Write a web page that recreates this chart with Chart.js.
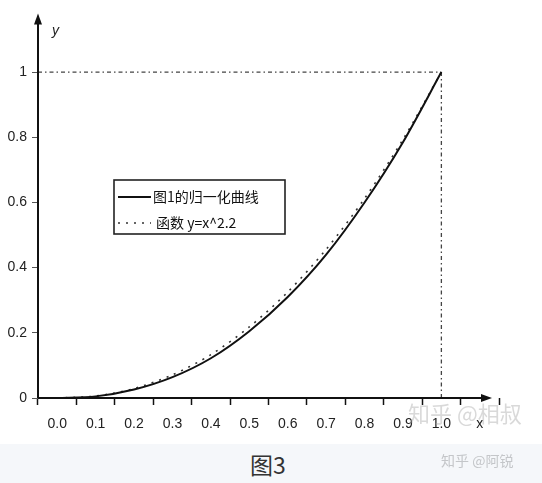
<!DOCTYPE html>
<html>
<head>
<meta charset="utf-8">
<script src="https://cdn.jsdelivr.net/npm/chart.js@4/dist/chart.umd.min.js"></script>
<style>
  html, body { margin: 0; padding: 0; background: #fff; }
  #wrap { position: relative; width: 542px; height: 483px; overflow: hidden; }
  #c { position: absolute; left: 0; top: 0; }
  #band { position: absolute; left: 0; top: 444px; width: 542px; height: 39px; background: #f5f7fa; }
  #caption { position: absolute; left: 0; top: 447px; width: 536px; text-align: center;
    font: 23px "Noto Sans CJK SC", sans-serif; color: #333; }
  .wm { position: absolute; font-family: "Noto Sans CJK SC", sans-serif; white-space: nowrap; }
  #wm1 { left: 408px; top: 396px; font-size: 22px; color: rgba(170,170,170,0.45); }
  #wm2 { left: 441px; top: 450px; font-size: 14px; color: #c4c6c9; }
</style>
</head>
<body>
<div id="wrap">
  <canvas id="c" width="542" height="444"></canvas>
  <div id="band"></div>
  <div id="caption">图3</div>
  <div class="wm" id="wm1">知乎 @相叔</div>
  <div class="wm" id="wm2">知乎 @阿锐</div>
</div>
<script>
// values
const xLabels = ['0.0', '0.1', '0.2', '0.3', '0.4', '0.5', '0.6', '0.7', '0.8', '0.9', '1.0', 'x'];
const curveValues = [0, 0.005, 0.026, 0.064, 0.122, 0.205, 0.31, 0.44, 0.6, 0.785, 1.0, null];
const powerValues = [0, 0.006, 0.029, 0.071, 0.133, 0.218, 0.325, 0.456, 0.612, 0.793, 1.0, null];
const yTicks = [0, 0.2, 0.4, 0.6, 0.8, 1];
const yTickLabels = ['0', '0.2', '0.4', '0.6', '0.8', '1'];

const tickFont = { family: "'Liberation Sans', Arial, sans-serif", size: 14 };

// axes with arrows, dotted guide lines at x=1.0 / y=1, y title, legend box
const decor = {
  id: 'decor',
  beforeDatasetsDraw(chart) {
    const ctx = chart.ctx, a = chart.chartArea;
    const xs = chart.scales.x, ys = chart.scales.y;
    const x1 = xs.getPixelForValue(10), y1 = ys.getPixelForValue(1), y0 = ys.getPixelForValue(0);
    ctx.save();
    ctx.strokeStyle = '#444';
    ctx.lineWidth = 1.3;
    ctx.setLineDash([4, 3, 1.5, 3]);
    ctx.beginPath();
    ctx.moveTo(a.left, y1); ctx.lineTo(x1, y1);
    ctx.moveTo(x1, y1); ctx.lineTo(x1, y0);
    ctx.stroke();
    ctx.restore();
  },
  afterDraw(chart) {
    const ctx = chart.ctx, a = chart.chartArea;
    const y0 = chart.scales.y.getPixelForValue(0);
    ctx.save();
    ctx.strokeStyle = '#111';
    ctx.fillStyle = '#111';
    ctx.lineWidth = 2;
    // y axis
    ctx.beginPath();
    ctx.moveTo(a.left, y0); ctx.lineTo(a.left, a.top + 6);
    ctx.stroke();
    ctx.beginPath();
    ctx.moveTo(a.left, a.top); ctx.lineTo(a.left - 4, a.top + 11); ctx.lineTo(a.left + 4, a.top + 11);
    ctx.closePath(); ctx.fill();
    // x axis
    const xe = a.right - 7;
    ctx.beginPath();
    ctx.moveTo(a.left, y0); ctx.lineTo(xe - 6, y0);
    ctx.stroke();
    ctx.beginPath();
    ctx.moveTo(xe, y0); ctx.lineTo(xe - 11, y0 - 4); ctx.lineTo(xe - 11, y0 + 4);
    ctx.closePath(); ctx.fill();
    // y title
    ctx.font = "italic 14px 'Liberation Sans', Arial, sans-serif";
    ctx.textAlign = 'left';
    ctx.textBaseline = 'middle';
    ctx.fillStyle = '#222';
    ctx.fillText('y', a.left + 14, a.top + 18);

    // legend
    const lx = a.left + 76, ly = 180, lw = 171, lh = 54;
    ctx.fillStyle = '#fff';
    ctx.fillRect(lx, ly, lw, lh);
    ctx.strokeStyle = '#222';
    ctx.lineWidth = 1.6;
    ctx.setLineDash([]);
    ctx.strokeRect(lx, ly, lw, lh);
    ctx.font = "14px 'Noto Sans CJK SC', sans-serif";
    ctx.textBaseline = 'middle';
    chart.data.datasets.forEach((ds, i) => {
      const yy = ly + 17 + i * 26;
      ctx.save();
      ctx.strokeStyle = ds.borderColor;
      ctx.lineWidth = ds.borderWidth;
      ctx.setLineDash(ds.borderDash || []);
      ctx.beginPath();
      ctx.moveTo(lx + 4, yy); ctx.lineTo(lx + 37, yy);
      ctx.stroke();
      ctx.restore();
      ctx.fillStyle = '#111';
      ctx.fillText(ds.label, lx + (i === 0 ? 39 : 42), yy);
    });
    ctx.restore();
  }
};

new Chart(document.getElementById('c'), {
  type: 'line',
  data: {
    labels: xLabels,
    datasets: [
      {
        label: '图1的归一化曲线',
        data: curveValues,
        borderColor: '#111',
        borderWidth: 2,
        pointRadius: 0,
        tension: 0.3
      },
      {
        label: '函数 y=x^2.2',
        data: powerValues,
        borderColor: '#333',
        borderWidth: 1.6,
        borderDash: [2, 6],
        pointRadius: 0,
        tension: 0.3
      }
    ]
  },
  options: {
    responsive: false,
    animation: false,
    layout: { padding: { top: 12, right: 43, left: 0, bottom: 0 } },
    plugins: { legend: { display: false }, tooltip: { enabled: false } },
    scales: {
      x: {
        type: 'category',
        offset: true,
        border: { display: false },
        grid: { offset: true, drawOnChartArea: false, tickLength: 7, tickWidth: 1.5, color: '#111' },
        ticks: { font: tickFont, color: '#222', padding: 11, maxRotation: 0, autoSkip: false },
        afterFit(s) { s.height = 46; }
      },
      y: {
        min: 0,
        max: 1.18,
        border: { display: false },
        grid: { drawOnChartArea: false, tickLength: 6, color: '#555' },
        afterBuildTicks(s) { s.ticks = yTicks.map(v => ({ value: v })); },
        ticks: {
          font: tickFont, color: '#222', padding: 5,
          callback: (v) => yTickLabels[yTicks.indexOf(v)]
        },
        afterFit(s) { s.width = 38; }
      }
    }
  },
  plugins: [decor]
});
</script>
</body>
</html>
